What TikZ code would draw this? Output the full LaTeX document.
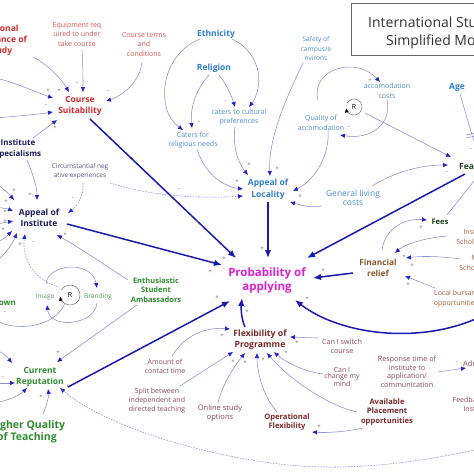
\documentclass[tikz,border=0pt]{standalone}
\usepackage{fontspec}
\setmainfont{Open Sans}
\usetikzlibrary{arrows.meta}
\definecolor{cred}{HTML}{D42A2A}
\definecolor{clred}{HTML}{D9534F}
\definecolor{cnavy}{HTML}{1B1B5E}
\definecolor{cslate}{HTML}{55557F}
\definecolor{cblue}{HTML}{2F7FD0}
\definecolor{clblue}{HTML}{4B8FD6}
\definecolor{cmag}{HTML}{E01FD0}
\definecolor{cgreen}{HTML}{2E8B2E}
\definecolor{clgreen}{HTML}{5E9E5E}
\definecolor{cdgreen}{HTML}{1F3F1F}
\definecolor{cbrown}{HTML}{8B5A2B}
\definecolor{clbrown}{HTML}{A0603A}
\definecolor{cmaroon}{HTML}{7A2828}
\definecolor{clmaroon}{HTML}{8B4A5A}
\definecolor{thinc}{HTML}{8C8CD8}
\definecolor{headc}{HTML}{1E1ECC}
\definecolor{thickc}{HTML}{1A1AB0}
\definecolor{signc}{HTML}{555555}
\begin{document}
\begin{tikzpicture}[x=1pt,y=1pt,
  txt/.style={align=center, inner sep=1pt},
  nred/.style={txt, text=cred, font=\fontsize{8.5}{11}\selectfont\bfseries},
  nlred/.style={txt, text=clred, font=\fontsize{7}{9.5}\selectfont},
  nnavy/.style={txt, text=cnavy, font=\fontsize{8.5}{11.5}\selectfont\bfseries},
  nslate/.style={txt, text=cslate, font=\fontsize{6.5}{9}\selectfont},
  nblue/.style={txt, text=cblue, font=\fontsize{8.5}{11.5}\selectfont\bfseries},
  nlblue/.style={txt, text=clblue, font=\fontsize{7}{9.3}\selectfont},
  nglc/.style={txt, text=clblue, font=\fontsize{8.5}{9.5}\selectfont},
  nmag/.style={txt, text=cmag, font=\fontsize{11.5}{14}\selectfont\bfseries},
  ndgreen/.style={txt, text=cdgreen, font=\fontsize{8.5}{11}\selectfont\bfseries},
  nbrown/.style={txt, text=cbrown, font=\fontsize{8.3}{11}\selectfont\bfseries},
  nlbrown/.style={txt, text=clbrown, font=\fontsize{7}{9.8}\selectfont},
  nmaroon/.style={txt, text=cmaroon, font=\fontsize{8.7}{11}\selectfont\bfseries},
  nmaroons/.style={txt, text=cmaroon, font=\fontsize{7.6}{9.6}\selectfont\bfseries},
  nlmaroon/.style={txt, text=clmaroon, font=\fontsize{7}{9}\selectfont},
  ngreen/.style={txt, text=cgreen, font=\fontsize{8.5}{11}\selectfont\bfseries},
  ngreens/.style={txt, text=cgreen, font=\fontsize{7.5}{9.5}\selectfont\bfseries},
  ngreenL/.style={txt, text=cgreen, font=\fontsize{10.5}{11.5}\selectfont\bfseries},
  nlgreen/.style={txt, text=clgreen, font=\fontsize{6.6}{8}\selectfont},
  rloop/.style={circle, inner sep=0pt, minimum size=14pt, font=\fontsize{7}{7}\selectfont},
  ttl/.style={inner sep=0pt, text=black!80, font=\fontsize{14}{16}\selectfont},
  pol/.style={inner sep=0pt, text=signc, font=\fontsize{6}{6}\selectfont},
  cl/.style={draw=thinc, line width=0.55pt, -{Latex[length=5pt,width=4.5pt,color=headc]}},
  cld/.style={cl, dash pattern=on 1.6pt off 1.2pt},
  cln/.style={draw=thinc, line width=0.55pt},
  ck/.style={draw=thickc, line width=1.5pt, -{Latex[length=8pt,width=6.5pt,color=thickc]}},
  loopc/.style={draw=black!55, line width=0.5pt, -{Triangle[length=4pt,width=3.5pt,color=black]}}
]
\useasboundingbox (0,0) rectangle (474,-474);
\fill[white] (0,0) rectangle (474,-474);
\clip (0,0) rectangle (474,-474);

% title
\draw[black!60, line width=0.6pt] (351,-3) rectangle (520,-55);
\node[ttl, anchor=base west] (t1) at (368,-27) {International Student};
\node[ttl, anchor=base west] (t2) at (386,-45) {Simplified Model};

% nodes
\node[nred] (pers) at (0,-40) {Personal\\Relevance of\\Study};
\node[nlred] (equip) at (77,-34) {Equipment req\\uired to under\\take course};
\node[nlred] (terms) at (144,-44) {Course terms\\and\\conditions};
\node[nred] (cs) at (80,-106) {Course\\Suitability};
\node[nnavy, font=\fontsize{8}{10.5}\selectfont\bfseries] (inst) at (18,-149) {Institute\\Specialisms};
\node[nslate] (circ) at (80,-171) {Circumstantial neg\\ative experiences};
\node[nnavy] (ai) at (39,-218) {Appeal of\\Institute};
\node[nblue] (ethn) at (216,-34) {Ethnicity};
\node[nblue] (rel) at (214,-68) {Religion};
\node[nlblue] (cfr) at (193,-140) {Caters for\\religious needs};
\node[nlblue] (ccp) at (239,-117) {caters to cultural\\preferences};
\node[nlblue, font=\fontsize{6.6}{9.5}\selectfont] (safe) at (316,-49) {Safety of\\campus/e\\nvirons};
\node[nlblue] (qoa) at (321,-123) {Quality of\\accomodation};
\node[nlblue] (acc) at (387,-91) {accomodation\\costs};
\node[rloop] (R1) at (354,-107) {R};
\node[nblue] (age) at (457,-87) {Age};
\node[ndgreen, anchor=west] (fea) at (458,-167) {Feasibility};
\node[nglc] (glc) at (353,-198) {General living\\costs};
\node[nblue, font=\fontsize{8.5}{12}\selectfont\bfseries] (al) at (268,-189) {Appeal of\\Locality};
\node[nmag] (prob) at (267,-280) {Probability of\\applying};
\node[ndgreen, font=\fontsize{7.6}{9}\selectfont\bfseries] (fees) at (440,-222) {Fees};
\node[nbrown] (fin) at (378,-268) {Financial\\relief};
\node[nlbrown] (isch) at (477,-238) {Institute\\Scholarships};
\node[nlbrown] (msch) at (480,-264) {Merit\\Scholarships};
\node[nlbrown] (lbo) at (456,-299) {Local bursary\\opportunities};
\node[nmaroon] (flex) at (260,-340) {Flexibility of\\Programme};
\node[nlmaroon] (amt) at (165,-366) {Amount of\\contact time};
\node[nlmaroon] (split) at (157,-401) {Split between\\independent and\\directed teaching};
\node[nlmaroon, font=\fontsize{7.5}{9.2}\selectfont] (online) at (220,-413) {Online study\\options};
\node[nmaroons] (opf) at (287,-422) {Operational\\Flexibility};
\node[nmaroons] (avp) at (387,-412) {Available\\Placement\\opportunities};
\node[nlmaroon, font=\fontsize{7.2}{9}\selectfont] (cis) at (342,-346) {Can I switch\\course};
\node[nlmaroon, font=\fontsize{7}{6.5}\selectfont] (ccm) at (342,-377) {Can I\\change my\\mind};
\node[nlmaroon, font=\fontsize{7.2}{8.5}\selectfont] (rti) at (407,-372) {Response time of\\institute to\\application/\\communication};
\node[nlmaroon, anchor=west, font=\fontsize{7.5}{9}\selectfont] (adm) at (462,-364) {Admission};
\node[nlmaroon] (fb) at (477,-404) {Feedback from\\Institute};
\node[ngreens] (ens) at (156,-290) {Enthusiastic\\Student\\Ambassadors};
\node[ngreen] (cr) at (40,-377) {Current\\Reputation};
\node[ngreenL] (hqt) at (27,-432) {Higher Quality\\of Teaching};
\node[ngreen, anchor=east, font=\fontsize{8}{10}\selectfont\bfseries] (own) at (17,-302) {Well known};
\node[nlgreen] (img) at (45,-297) {image};
\node[nlgreen] (brd) at (98,-297) {Branding};
\node[rloop, minimum size=18pt] (R2) at (70,-295) {R};

% free ends
\coordinate (L1) at (-5,-78);
\coordinate (L2) at (-5,-118);
\coordinate (L3) at (-5,-183);
\coordinate (L4) at (-5,-207);
\coordinate (L5) at (-5,-224);
\coordinate (L6) at (-5,-243);
\coordinate (L7) at (-5,-262);
\coordinate (L8) at (-5,-320);
\coordinate (L9) at (-5,-350);
\coordinate (L10) at (-5,-383);
\coordinate (L11) at (-5,-403);
\coordinate (L12) at (480,-449);
\coordinate (L13) at (480,-317);
\coordinate (L14) at (478,-176);
\coordinate (L15) at (477,-150);

% R loops (small circles with black head)
\draw[loopc] ([shift={(150:8)}]R1.center) arc (150:-170:8);
\draw[loopc] ([shift={(150:10)}]R2.center) arc (150:-170:10);
% R1 outer loop
\draw[cl] ([shift={(-36,7)}]R1.center) .. controls (310,-70) and (355,-55) .. ([shift={(-7,9)}]acc.center);
\draw[cl] ([shift={(0,-9)}]acc.center) .. controls (392,-125) and (370,-140) .. ([shift={(19,-12)}]qoa.center);
% R2 outer loop
\draw[cl] ([shift={(-24,11)}]R2.center) .. controls (48,-263) and (92,-260) .. ([shift={(-1,9)}]brd.center);
\draw[cl] ([shift={(-1,-6)}]brd.center) .. controls (95,-325) and (50,-330) .. ([shift={(2,-8)}]img.center);

% Course suitability inputs
\draw[cl] ([shift={(33,-17)}]pers.center) .. controls (50,-66) and (62,-80) .. ([shift={(-11,14)}]cs.center);
\draw[cl] (L1) .. controls (15,-82) and (35,-92) .. ([shift={(-27,8)}]cs.center);
\draw[cl] (L2) .. controls (20,-116) and (40,-114) .. ([shift={(-27,-6)}]cs.center);
\draw[cl] ([shift={(15,11)}]inst.center) -- ([shift={(-23,-14)}]cs.center);
\draw[cl] ([shift={(5,-16)}]equip.center) .. controls (83,-65) and (83,-80) .. ([shift={(3,14)}]cs.center);
\draw[cl] ([shift={(-2,-18)}]terms.center) .. controls (140,-82) and (122,-96) .. ([shift={(26,5)}]cs.center);
\draw[ck] ([shift={(10,-13)}]cs.center) -- ([shift={(-31,22)}]prob.center);

% Appeal of institute inputs
\draw[cl] ([shift={(9,-11)}]inst.center) .. controls (32,-172) and (37,-186) .. ([shift={(-2,18)}]ai.center);
\draw[cld] ([shift={(3,-12)}]circ.center) .. controls (84,-197) and (76,-207) .. ([shift={(29,5)}]ai.center);
\draw[cld] ([shift={(30,-12)}]circ.center) .. controls (150,-196) and (200,-199) .. ([shift={(-25,-7)}]al.center);
\draw[cl] (L3) .. controls (3,-188) and (9,-194) .. ([shift={(-25,18)}]ai.center);
\draw[cl] (L4) .. controls (3,-208) and (8,-209) .. ([shift={(-26,7)}]ai.center);
\draw[cl] (L5) .. controls (3,-223) and (8,-222) .. ([shift={(-26,-3)}]ai.center);
\draw[cl] (L6) .. controls (3,-240) and (8,-235) .. ([shift={(-27,-13)}]ai.center);
\draw[cl] ([shift={(-28,10)}]ens.center) .. controls (105,-265) and (75,-245) .. ([shift={(18,-17)}]ai.center);
\draw[cl] (L7) .. controls (5,-255) and (13,-243) .. ([shift={(-22,-15)}]ai.center);
\draw[cld] ([shift={(13,10)}]img.center) .. controls (30,-278) and (22,-255) .. ([shift={(-14,-16)}]ai.center);
\draw[ck] ([shift={(28,-6)}]ai.center) -- ([shift={(-45,15)}]prob.center);
\draw[cln] ([shift={(20,-6)}]img.center) .. controls (55,-328) and (15,-332) .. (L8);

% Current reputation inputs
\draw[cl] ([shift={(-19,-15)}]ens.center) -- ([shift={(17,15)}]cr.center);
\draw[ck] ([shift={(28,-10)}]cr.center) -- ([shift={(-37,-21)}]prob.center);
\draw[cl] (L9) .. controls (3,-352) and (8,-358) .. ([shift={(-28,14)}]cr.center);
\draw[cl] (L10) -- ([shift={(-25,-6)}]cr.center);
\draw[cl] (L11) .. controls (10,-400) and (20,-395) .. ([shift={(-13,-11)}]cr.center);
\draw[cl] ([shift={(16,18)}]hqt.center) .. controls (47,-405) and (49,-395) .. ([shift={(8,-12)}]cr.center);
\draw[cld] (L12) .. controls (420,-462) and (360,-470) .. (300,-466) .. controls (220,-460) and (110,-430) .. ([shift={(20,-11)}]cr.center);

% Flexibility inputs
\draw[ck] ([shift={(-15,13)}]flex.center) .. controls (241,-318) and (241,-308) .. ([shift={(-25,-18)}]prob.center);
\draw[cl] ([shift={(7,10)}]amt.center) .. controls (185,-335) and (205,-327) .. ([shift={(-30,11)}]flex.center);
\draw[cl] ([shift={(23,15)}]split.center) -- ([shift={(-27,-12)}]flex.center);
\draw[cl] ([shift={(-2,10)}]online.center) .. controls (222,-385) and (235,-365) .. ([shift={(-15,-13)}]flex.center);
\draw[cl] ([shift={(-10,10)}]opf.center) .. controls (262,-395) and (257,-370) .. ([shift={(-3,-13)}]flex.center);
\draw[cl] ([shift={(-30,0)}]avp.center) .. controls (325,-405) and (285,-375) .. ([shift={(7,-13)}]flex.center);
\draw[cl] ([shift={(-19,3)}]ccm.center) .. controls (305,-372) and (285,-362) .. ([shift={(14,-12)}]flex.center);
\draw[cl] ([shift={(-24,8)}]cis.center) -- ([shift={(30,3)}]flex.center);
\draw[cl] ([shift={(-24,-16)}]avp.center) .. controls (345,-432) and (325,-433) .. ([shift={(25,-10)}]opf.center);
\draw[cl] ([shift={(31,0)}]rti.center) -- ([shift={(4,-4)}]adm.west);

% Right side
\draw[ck] (L13) .. controls (420,-345) and (340,-335) .. ([shift={(28,-20)}]prob.center);
\draw[ck] ([shift={(-25,-5)}]fin.center) -- ([shift={(46,2)}]prob.center);
\draw[cl] ([shift={(4,18)}]fin.center) .. controls (385,-228) and (405,-218) .. ([shift={(-13,2)}]fees.center);
\draw[cl] ([shift={(-30,2)}]isch.center) .. controls (425,-238) and (405,-244) .. ([shift={(17,15)}]fin.center);
\draw[cl] ([shift={(-20,5)}]msch.center) .. controls (440,-256) and (420,-256) .. ([shift={(28,10)}]fin.center);
\draw[cl] ([shift={(-21,11)}]lbo.center) -- ([shift={(27,-8)}]fin.center);
\draw[cln] ([shift={(7,7)}]fees.center) -- (L14);
\draw[ck] ([shift={(7,-7)}]fea.west) -- ([shift={(40,22)}]prob.center);
\draw[cl] ([shift={(19,12)}]glc.center) .. controls (395,-172) and (420,-165) .. ([shift={(-10,2)}]fea.west);
\draw[cl] ([shift={(-22,-22)}]acc.center) -- ([shift={(-7,10)}]fea.west);
\draw[cln] ([shift={(3,-7)}]age.center) .. controls (465,-110) and (470,-130) .. (L15);
\draw[thinc, line width=0.5pt] (466,-135) -- (476,-133) (466,-138) -- (476,-136);

% Appeal of locality inputs
\draw[cl] ([shift={(-31,-8)}]glc.center) .. controls (310,-208) and (300,-205) .. ([shift={(22,-13)}]al.center);
\draw[cl] ([shift={(7,-7)}]qoa.center) .. controls (330,-155) and (315,-180) .. ([shift={(25,-2)}]al.center);
\draw[cl] ([shift={(-13,-14)}]safe.center) .. controls (285,-100) and (268,-140) .. ([shift={(2,13)}]al.center);
\draw[cl] ([shift={(-4,-10)}]ccp.center) .. controls (232,-150) and (240,-165) .. ([shift={(-20,14)}]al.center);
\draw[cl] ([shift={(4,-9)}]cfr.center) .. controls (205,-175) and (225,-187) .. ([shift={(-25,0)}]al.center);
\draw[ck] ([shift={(0,-13)}]al.center) -- ([shift={(1,22)}]prob.center);
\draw[cl] ([shift={(-16,-5)}]ethn.center) .. controls (160,-55) and (155,-110) .. ([shift={(-10,10)}]cfr.center);
\draw[cl] ([shift={(16,-5)}]ethn.center) .. controls (265,-55) and (262,-90) .. ([shift={(10,10)}]ccp.center);
\draw[cl] ([shift={(-5,-7)}]rel.center) .. controls (195,-90) and (190,-110) .. ([shift={(-1,12)}]cfr.center);
\draw[cl] ([shift={(5,-7)}]rel.center) .. controls (227,-85) and (232,-97) .. ([shift={(-4,10)}]ccp.center);

% polarity signs
\foreach \n/\px/\py/\sg in {1/48/91/+, 2/59/91/+, 3/46/106/-, 4/55/128/+, 5/77/84/-, 6/108/92/-,
  7/224/259/+, 8/30/195/+, 9/73/199/-, 10/179/190/-, 11/14/191/+, 12/6/202/+, 13/5/212/+, 14/5/222/+, 15/3/230/+,
  16/65/235/+, 17/20/245/+, 18/33/243/-, 19/210/272/+, 20/5/313/-, 21/58/353/+, 22/217/298/+, 23/3/378/-,
  24/41/397/+, 25/68/387/+, 26/247/312/+, 27/222/336/+, 28/233/362/+, 29/245/363/+, 30/263/360/+, 31/286/353/+,
  32/297/343/+, 33/319/427/+, 34/457/363/-, 35/307/299/+, 36/323/271/+, 37/421/228/+, 38/404/257/+, 39/412/266/+,
  40/408/285/+, 41/317/260/-, 42/447/173/-, 43/471/150/-, 44/300/197/+, 45/277/169/+, 46/249/165/+, 47/237/182/+,
  48/262/249/+, 49/199/123/-, 50/226/102/-, 51/370/81/+, 52/349/128/-}
  \node[pol] (s\n) at (\px,-\py) {\sg};
\end{tikzpicture}
\end{document}
